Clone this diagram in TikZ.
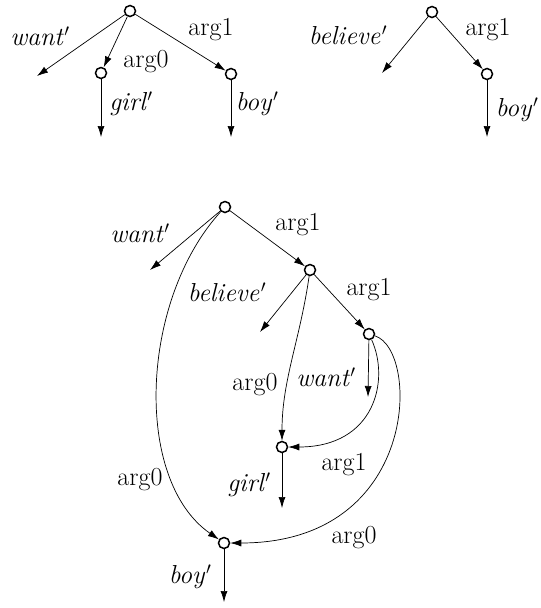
\documentclass[tikz,border=0pt]{standalone}
\usetikzlibrary{arrows.meta}
\newcommand{\pr}{\kern1.5pt$'$}
\begin{document}
\begin{tikzpicture}[x=1pt,y=-1pt,
  vtx/.style={circle,draw,line width=1.5pt,inner sep=0pt,minimum size=11pt,fill=white},
  edge/.style={line width=0.7pt,-{Latex[length=11pt,width=7pt]}},
  lab/.style={inner sep=0pt,font=\fontsize{26}{30}\selectfont},
  ilab/.style={inner sep=0pt,font=\fontsize{26}{30}\selectfont\itshape}]
\useasboundingbox (0,0) rectangle (541,608);
% top-left tree
\node[vtx] (r1) at (130,11) {};
\node[vtx] (g1) at (101,73) {};
\node[vtx] (b1) at (231,74) {};
\coordinate (w1) at (37,76);
\coordinate (g1e) at (101,137);
\coordinate (b1e) at (231,137);
\draw[edge] (r1) -- (w1);
\draw[edge] (r1) -- (g1);
\draw[edge] (r1) -- (b1);
\draw[edge] (g1) -- (g1e);
\draw[edge] (b1) -- (b1e);
\node[ilab] (lw1) at (40,36) {want\pr};
\node[lab] (la1) at (211,30) {arg1};
\node[lab] (la0) at (146,62) {arg0};
\node[ilab] (lg1) at (131,104) {girl\pr};
\node[ilab] (lb1) at (257,104) {boy\pr};
% top-right tree
\node[vtx] (r2) at (432,12) {};
\node[vtx] (b2) at (487,74) {};
\coordinate (bel2) at (382,73);
\coordinate (b2e) at (487,137);
\draw[edge] (r2) -- (bel2);
\draw[edge] (r2) -- (b2);
\draw[edge] (b2) -- (b2e);
\node[ilab] (lbel2) at (348,35) {believe\pr};
\node[lab] (la2) at (488,30) {arg1};
\node[ilab] (lb2) at (517,110) {boy\pr};
% bottom graph
\node[vtx] (A) at (225,207) {};
\node[vtx] (B) at (310,270) {};
\node[vtx] (C) at (369,334) {};
\node[vtx] (D) at (282,447) {};
\node[vtx] (E) at (224,543) {};
\coordinate (wA) at (150,270);
\coordinate (belB) at (260,332);
\coordinate (Ce) at (368,397);
\coordinate (De) at (282,508);
\coordinate (Ee) at (224,602);
\draw[edge] (A) -- (wA);
\draw[edge] (A) -- (B);
\draw[edge] (B) -- (belB);
\draw[edge] (B) -- (C);
\draw[edge] (C) -- (Ce);
\draw[edge] (D) -- (De);
\draw[edge] (E) -- (Ee);
\draw[edge] (A) .. controls (140,300) and (133,480) .. (E);
\draw[edge] (B) .. controls (300,340) and (282,380) .. (D);
\draw[edge] (C) .. controls (390,380) and (375,447) .. (D);
\draw[edge] (C) .. controls (420,350) and (420,543) .. (E);
\node[ilab] (lwA) at (140,233) {want\pr};
\node[lab] (laA) at (298,225) {arg1};
\node[ilab] (lbelB) at (227,292) {believe\pr};
\node[lab] (laB) at (369,290) {arg1};
\node[lab] (la0B) at (255,385) {arg0};
\node[ilab] (lwC) at (326,377) {want\pr};
\node[lab] (laC) at (344,465) {arg1};
\node[ilab] (lgD) at (249,485) {girl\pr};
\node[lab] (la0A) at (140,480) {arg0};
\node[lab] (la0C) at (354,538) {arg0};
\node[ilab] (lbE) at (190,577) {boy\pr};
\end{tikzpicture}
\end{document}
